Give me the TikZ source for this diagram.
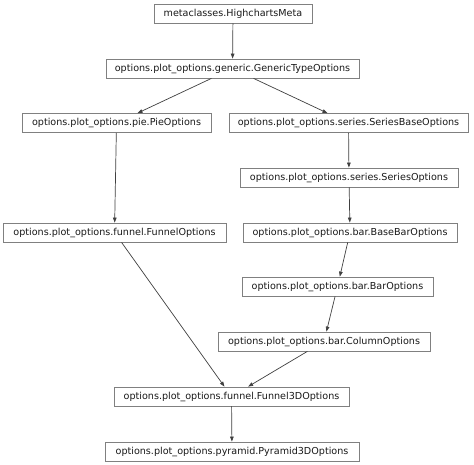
\documentclass[tikz,border=0pt]{standalone}
\usepackage{fontspec}
\setmainfont{DejaVu Sans}
\usetikzlibrary{arrows.meta}
\begin{document}
\begin{tikzpicture}[x=1pt,y=-1pt,
  cls/.style={draw=black!50,line width=0.8pt,inner sep=0pt,minimum height=19pt,font=\fontsize{9.6}{11}\selectfont,text=black!90},
  inh/.style={draw=black!75,line width=0.7pt,-{Triangle[length=5pt,width=3.6pt]}}]
\useasboundingbox[fill=white] (0,0) rectangle (474,465);
\node[cls,minimum width=158pt] (meta) at (233,13.5) {metaclasses.HighchartsMeta};
\node[cls,minimum width=253pt] (gen) at (232.5,68.5) {options.plot\_options.generic.GenericTypeOptions};
\node[cls,minimum width=189pt] (pie) at (116.5,123) {options.plot\_options.pie.PieOptions};
\node[cls,minimum width=239pt] (sbase) at (348.5,123) {options.plot\_options.series.SeriesBaseOptions};
\node[cls,minimum width=218pt] (sopt) at (349,177.5) {options.plot\_options.series.SeriesOptions};
\node[cls,minimum width=223pt] (fun) at (114.5,232.5) {options.plot\_options.funnel.FunnelOptions};
\node[cls,minimum width=214pt] (bbar) at (350,232.5) {options.plot\_options.bar.BaseBarOptions};
\node[cls,minimum width=191pt] (bar) at (337.5,286.5) {options.plot\_options.bar.BarOptions};
\node[cls,minimum width=212pt] (col) at (324,341.5) {options.plot\_options.bar.ColumnOptions};
\node[cls,minimum width=235pt] (f3d) at (231.5,396.5) {options.plot\_options.funnel.Funnel3DOptions};
\node[cls,minimum width=254pt] (pyr) at (232,451.5) {options.plot\_options.pyramid.Pyramid3DOptions};
\draw[inh] (meta) -- (gen);
\draw[inh] (gen) -- (pie);
\draw[inh] (gen) -- (sbase);
\draw[inh] (pie) -- (fun);
\draw[inh] (sbase) -- (sopt);
\draw[inh] (sopt) -- (bbar);
\draw[inh] (bbar) -- (bar);
\draw[inh] (bar) -- (col);
\draw[inh] (fun) -- (f3d);
\draw[inh] (col) -- (f3d);
\draw[inh] (f3d) -- (pyr);
\end{tikzpicture}
\end{document}
